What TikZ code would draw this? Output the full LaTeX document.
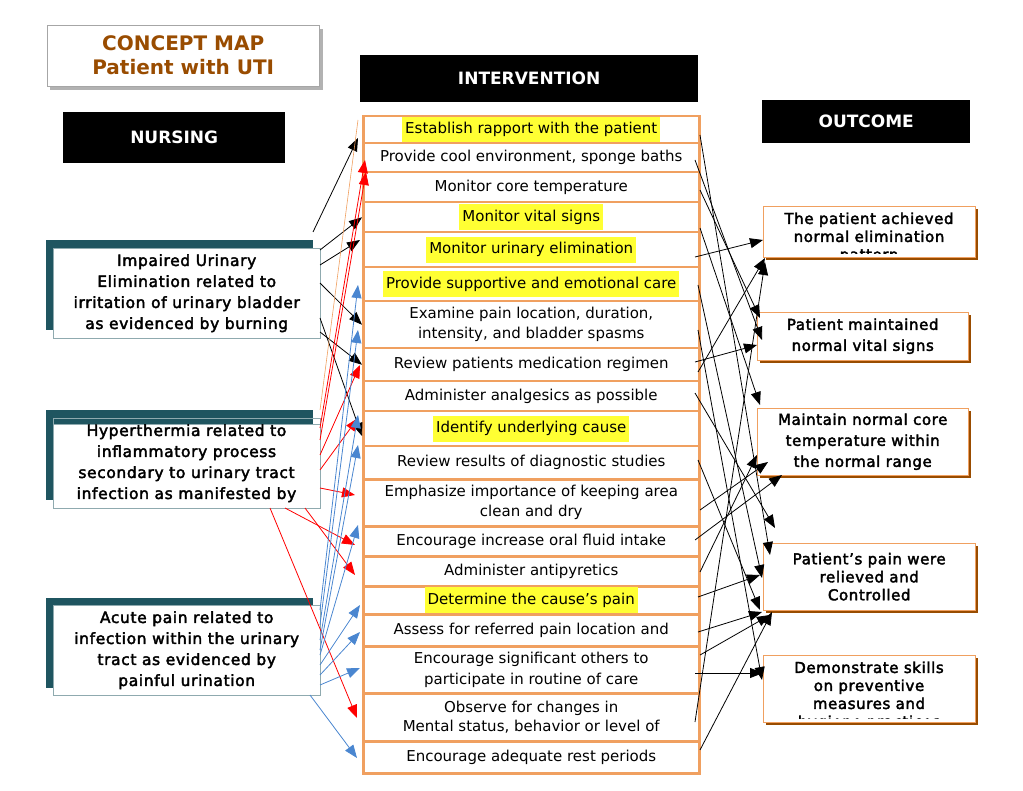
\documentclass[tikz,border=0pt]{standalone}
\usepackage{fontspec}
\setmainfont{DejaVu Sans}
\newfontfamily\semib[FakeBold=2.5,LetterSpace=4]{DejaVu Sans}
\usetikzlibrary{arrows.meta}
\definecolor{org}{HTML}{F0A060}
\definecolor{teal}{HTML}{1F5560}
\definecolor{brn}{HTML}{994C00}
\definecolor{bl}{HTML}{4A86D0}
\definecolor{yel}{HTML}{FFFF33}
\begin{document}
\begin{tikzpicture}[x=1pt,y=-1pt,
  row/.style={draw=org,line width=2.5pt,fill=white,minimum width=336pt,inner sep=0pt,font=\fontsize{15}{20}\selectfont,align=center,anchor=north west},
  hdr/.style={fill=black,text=white,font=\bfseries\fontsize{17}{20}\selectfont,inner sep=0pt,anchor=north west},
  lbox/.style={draw=teal!50,fill=white,minimum width=267pt,minimum height=90pt,inner sep=0pt,anchor=north west,align=center,font=\semib\fontsize{15.5}{21}\selectfont},
  obox/.style={draw=org,fill=white,minimum width=211pt,inner sep=0pt,anchor=north west,align=center,font=\semib\fontsize{15}{18}\selectfont},
  ka/.style={-{Triangle[length=13pt,width=10pt]},black,line width=0.8pt},
  ra/.style={-{Triangle[length=13pt,width=10pt]},red,line width=0.8pt},
  ba/.style={-{Triangle[length=13pt,width=10pt]},bl,line width=0.8pt}]
\useasboundingbox (0,0) rectangle (1023,791);
% title
\fill[gray!60] (50,29) rectangle (323,90);
\node[draw=gray!70,fill=white,minimum width=272pt,minimum height=61pt,inner sep=0pt,anchor=north west,align=center,text=brn,font=\bfseries\fontsize{20}{24}\selectfont] (title) at (47,25) {CONCEPT MAP\\Patient with UTI};
\node[hdr,minimum width=338pt,minimum height=47pt] (hint) at (360,55) {INTERVENTION};
\node[hdr,minimum width=222pt,minimum height=51pt] (hnur) at (63,112) {NURSING};
\node[hdr,minimum width=208pt,minimum height=43pt] (hout) at (762,100) {OUTCOME};
% left boxes
\foreach \y in {240,410,598}{\fill[teal] (46,\y) rectangle (313,\y+90);}
\node[lbox] (L1) at (53,248) {Impaired Urinary\\Elimination related to\\irritation of urinary bladder\\as evidenced by burning};
\begin{scope}
\clip (50,418) rectangle (325,507);
\node[lbox,anchor=north] (L2) at (186.5,424) {Hyperthermia related to\\inflammatory process\\secondary to urinary tract\\infection as manifested by\\fever};
\end{scope}
\draw[teal!50] (53,418) rectangle (320,508);
\node[lbox] (L3) at (53,605) {Acute pain related to\\infection within the urinary\\tract as evidenced by\\painful urination};
% rows
\node[row,minimum height=27pt] (r1) at (362,115) {\colorbox{yel}{\strut Establish rapport with the patient}};
\node[row,minimum height=29pt] (r2) at (362,142) {Provide cool environment, sponge baths};
\node[row,minimum height=30pt] (r3) at (362,171) {Monitor core temperature};
\node[row,minimum height=30pt] (r4) at (362,201) {\colorbox{yel}{\strut Monitor vital signs}};
\node[row,minimum height=35pt] (r5) at (362,231) {\colorbox{yel}{\strut Monitor urinary elimination}};
\node[row,minimum height=34pt] (r6) at (362,266) {\colorbox{yel}{\strut Provide supportive and emotional care}};
\node[row,minimum height=47pt] (r7) at (362,300) {Examine pain location, duration,\\intensity, and bladder spasms};
\node[row,minimum height=33pt] (r8) at (362,347) {Review patients medication regimen};
\node[row,minimum height=30pt] (r9) at (362,380) {Administer analgesics as possible};
\node[row,minimum height=35pt] (r10) at (362,410) {\colorbox{yel}{\strut Identify underlying cause}};
\node[row,minimum height=33pt] (r11) at (362,445) {Review results of diagnostic studies};
\node[row,minimum height=47pt] (r12) at (362,478) {Emphasize importance of keeping area\\clean and dry};
\node[row,minimum height=30pt] (r13) at (362,525) {Encourage increase oral fluid intake};
\node[row,minimum height=30pt] (r14) at (362,555) {Administer antipyretics};
\node[row,minimum height=28pt] (r15) at (362,585) {\colorbox{yel}{\strut Determine the cause’s pain}};
\node[row,minimum height=32pt] (r16) at (362,613) {Assess for referred pain location and};
\node[row,minimum height=47pt,font=\fontsize{15}{21}\selectfont] (r17) at (362,645) {Encourage significant others to\\participate in routine of care};
\node[row,minimum height=48pt,font=\fontsize{15}{19}\selectfont] (r18) at (362,692) {Observe for changes in\\Mental status, behavior or level of};
\node[row,minimum height=32pt] (r19) at (362,740) {Encourage adequate rest periods};
% outcomes
\foreach \x/\y/\w/\h in {763/206/212/51,757/312/211/48,757/408/211/67,763/543/212/67,763/655/212/67}{\fill[brn] (\x+3,\y+3) rectangle (\x+\w+3,\y+\h+3);}
\node[obox,minimum width=212pt,minimum height=51pt] (O1) at (763,206) {};
\begin{scope}\clip (763,206) rectangle (975,254);
\node[anchor=north,align=center,font=\semib\fontsize{15}{18}\selectfont] (O1t) at (869,209) {The patient achieved\\normal elimination\\pattern};
\end{scope}
\node[obox,minimum height=48pt,font=\semib\fontsize{15}{21}\selectfont] (O2) at (757,312) {Patient maintained\\normal vital signs};
\node[obox,minimum height=67pt,font=\semib\fontsize{15}{21}\selectfont] (O3) at (757,408) {Maintain normal core\\temperature within\\the normal range};
\node[obox,minimum width=212pt,minimum height=67pt,font=\semib\fontsize{15}{18}\selectfont] (O4) at (763,543) {Patient’s pain were\\relieved and\\Controlled};
\node[obox,minimum width=212pt,minimum height=67pt] (O5) at (763,655) {};
\begin{scope}\clip (763,655) rectangle (975,718);
\node[anchor=north,align=center,font=\semib\fontsize{15}{18}\selectfont] (O5t) at (869,658) {Demonstrate skills\\on preventive\\measures and\\hygiene practices};
\end{scope}
% left arrows black
\draw[ka] (313,232) -- (358,138);
\draw[ka] (320,250) -- (r4.west);
\draw[ka] (320,265) -- (360,240);
\draw[ka] (320,283) -- (r7.west);
\draw[ka] (320,318) -- (362,436);
\draw[ka] (320,332) -- (r8.west);
\draw[org,line width=0.6pt] (320,410) -- (358,120);
% red
\draw[ra] (320,428) -- (365,160);
\draw[ra] (320,440) -- (366,172);
\draw[ra] (320,455) -- (360,365);
\draw[ra] (320,470) -- (358,418);
\draw[ra] (320,488) -- (355,495);
\draw[ra] (285,508) -- (355,545);
\draw[ra] (305,508) -- (355,575);
\draw[ra] (270,508) -- (357,718);
% blue
\draw[ba] (320,610) -- (358,285);
\draw[ba] (320,625) -- (358,330);
\draw[ba] (320,640) -- (358,415);
\draw[ba] (320,650) -- (358,445);
\draw[ba] (320,665) -- (360,605);
\draw[ba] (320,675) -- (360,632);
\draw[ba] (320,685) -- (360,668);
\draw[ba] (310,695) -- (357,758);
\draw[ba] (320,655) -- (358,525);
% right arrows
\draw[ka] (700,135) -- (770,555);
\draw[ka] (695,160) -- (762,340);
\draw[ka] (700,190) -- (760,318);
\draw[ka] (700,228) -- (760,405);
\draw[ka] (695,257) -- (763,240);
\draw[ka] (698,285) -- (762,578);
\draw[ka] (698,330) -- (762,680);
\draw[ka] (695,362) -- (757,345);
\draw[ka] (698,372) -- (765,258);
\draw[ka] (695,393) -- (775,528);
\draw[ka] (698,460) -- (760,610);
\draw[ka] (700,510) -- (768,462);
\draw[ka] (695,540) -- (782,475);
\draw[ka] (700,572) -- (757,455);
\draw[ka] (698,597) -- (760,575);
\draw[ka] (698,632) -- (762,612);
\draw[ka] (700,655) -- (770,615);
\draw[ka] (695,673) -- (763,673);
\draw[ka] (695,722) -- (765,262);
\draw[ka] (700,750) -- (772,612);
\end{tikzpicture}
\end{document}
